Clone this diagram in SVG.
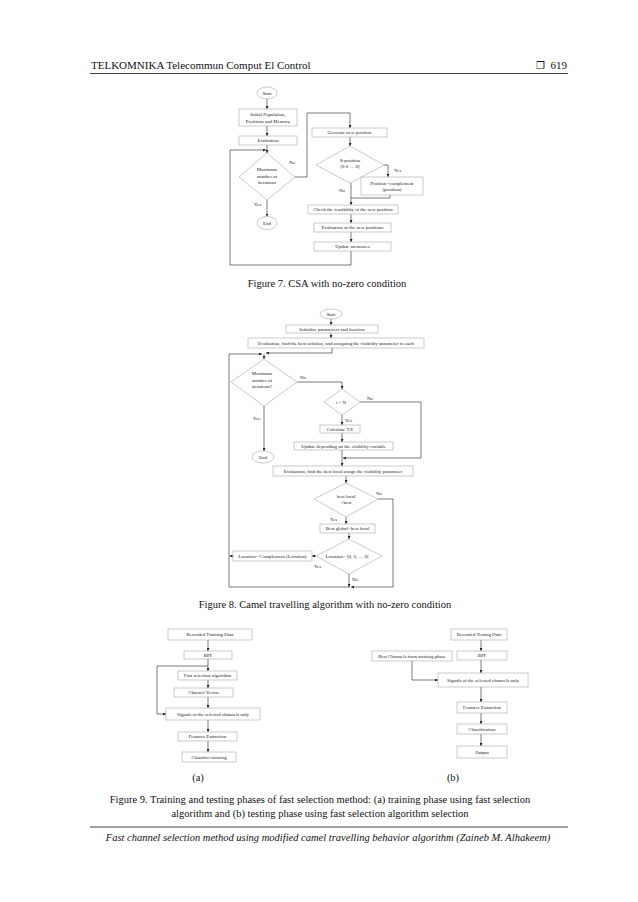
<svg xmlns="http://www.w3.org/2000/svg" width="638" height="902" viewBox="0 0 638 902">
<style>
.bx{fill:#fff;stroke:#a0a0a0;stroke-width:0.55}
.ln{fill:none;stroke:#222;stroke-width:0.6}
.ar{fill:none;stroke:#222;stroke-width:0.6;marker-end:url(#ah)}
.t{font-family:"Liberation Serif","Times New Roman",serif;font-size:4.9px;fill:#222;text-anchor:middle}
.l{font-family:"Liberation Serif","Times New Roman",serif;font-size:4.9px;fill:#222}
.cap{font-family:"Liberation Serif","Times New Roman",serif;font-size:10.5px;fill:#111;text-anchor:middle}
.hd{font-family:"Liberation Serif","Times New Roman",serif;font-size:11px;fill:#111}
</style>
<defs>
<marker id="ah" viewBox="0 0 6 6" refX="6" refY="3" markerWidth="3" markerHeight="3" orient="auto" markerUnits="userSpaceOnUse"><path d="M0,0 L6,3 L0,6 z" fill="#222"/></marker>
</defs>
<rect width="638" height="902" fill="#fff"/>

<g id="header">
<text class="hd" x="91" y="69">TELKOMNIKA Telecommun Comput El Control</text>
<text x="536" y="69" style="font-family:'DejaVu Sans',sans-serif;font-size:10px;fill:#111">❐</text>
<text class="hd" x="567" y="69" text-anchor="end">619</text>
<line x1="90" y1="73.5" x2="568" y2="73.5" stroke="#111" stroke-width="0.8"/>
</g>

<g id="connectors">
<path class="ar" d="M267,99 V109"/>
<path class="ar" d="M267,126 V136"/>
<path class="ar" d="M267,145 V153"/>
<path class="ar" d="M295,177 H307 V113 H350 V128"/>
<path class="ar" d="M350,137 V146"/>
<path class="ar" d="M384,165 H388 V177"/>
<path class="ln" d="M390,195 V198 H351"/>
<path class="ar" d="M351,183 V205"/>
<path class="ar" d="M351,214 V223"/>
<path class="ar" d="M351,232 V242"/>
<path class="ar" d="M351,251 V265 H230 V150 H266"/>
<path class="ar" d="M267,200 V216.5"/>

<path class="ar" d="M331,319 V325"/>
<path class="ar" d="M331,333 V338"/>
<path class="ar" d="M332,348 V353 H266"/>
<path class="ar" d="M350,587 H229 V354 H262"/>
<path class="ar" d="M264,354 V359"/>
<path class="ar" d="M297,382 H342 V389"/>
<path class="ar" d="M360,402 H421 V458 H343"/>
<path class="ar" d="M342,415 V425"/>
<path class="ar" d="M342,433 V442"/>
<path class="ar" d="M342,450 V466"/>
<path class="ar" d="M264,406 V451"/>
<path class="ar" d="M346,476 V483"/>
<path class="ar" d="M378,499 H393 V587 H351"/>
<path class="ar" d="M346,517 V524"/>
<path class="ar" d="M349,533 V539"/>
<path class="ar" d="M316,556 H312"/>
<path class="ar" d="M233,556 H229.5"/>
<path class="ar" d="M349,574 V587"/>

<path class="ar" d="M208,640 V651"/>
<path class="ar" d="M208,659 V671"/>
<path class="ar" d="M208,666 H157 V714 H166"/>
<path class="ar" d="M208,680 V688"/>
<path class="ar" d="M208,697 V708"/>
<path class="ar" d="M208,720 V732"/>
<path class="ar" d="M208,741 V752"/>
<path class="ar" d="M481,640 V651"/>
<path class="ar" d="M481,660 V673"/>
<path class="ar" d="M412,661 V680 H438"/>
<path class="ar" d="M481,687 V702"/>
<path class="ar" d="M481,713 V724"/>
<path class="ar" d="M481,734 V746"/>
</g>

<g id="f7-start"><ellipse class="bx" cx="267" cy="93" rx="10" ry="6"/><text class="t" x="267" y="94.7">Start</text></g>
<g id="f7-init"><rect class="bx" x="239" y="109" width="58" height="17"/><text class="t" x="268" y="116">Initial Population,</text><text class="t" x="268" y="122.5">Positions and Memory</text></g>
<g id="f7-eval"><rect class="bx" x="239" y="136" width="58" height="9"/><text class="t" x="268" y="142.2">Evaluation</text></g>
<g id="f7-max"><polygon class="bx" points="267,153 295,177 267,200 239,177"/><text class="t" x="267" y="171">Maximum</text><text class="t" x="267" y="177.5">number of</text><text class="t" x="267" y="184">iterations</text></g>
<g id="f7-gen"><rect class="bx" x="312" y="128" width="75" height="9"/><text class="t" x="349.5" y="134.2">Generate new position</text></g>
<g id="f7-if"><polygon class="bx" points="350,146 384,165 350,183 316,165"/><text class="t" x="350" y="162">If position</text><text class="t" x="350" y="168">[0 0 … 0]</text></g>
<g id="f7-comp"><rect class="bx" x="361" y="177" width="62" height="18"/><text class="t" x="392" y="184.5">Position=complement</text><text class="t" x="392" y="191">(position)</text></g>
<g id="f7-check"><rect class="bx" x="308" y="205" width="90" height="9"/><text class="t" x="353" y="211.2">Check the feasibility of the new position</text></g>
<g id="f7-evalnew"><rect class="bx" x="314" y="223" width="77" height="9"/><text class="t" x="352.5" y="229.2">Evaluation of the new positions</text></g>
<g id="f7-update"><rect class="bx" x="314" y="242" width="77" height="9"/><text class="t" x="352.5" y="248.2">Update memories</text></g>
<g id="f7-end"><ellipse class="bx" cx="267" cy="223" rx="10" ry="6.5"/><text class="t" x="267" y="224.7">End</text></g>
<g id="f7-labels"><text class="l" x="289" y="164">No</text><text class="l" x="394" y="172">Yes</text><text class="l" x="339" y="192">No</text><text class="l" x="254" y="206">Yes</text></g>
<text class="cap" x="327" y="286.5">Figure 7. CSA with no-zero condition</text>

<g id="f8-start"><ellipse class="bx" cx="331" cy="314" rx="11" ry="5"/><text class="t" x="331" y="315.7">Start</text></g>
<g id="f8-init"><rect class="bx" x="286" y="325" width="92" height="8"/><text class="t" x="332" y="330.7">Initialize parameters and location</text></g>
<g id="f8-eval"><rect class="bx" x="248" y="338" width="176" height="10"/><text class="t" x="336" y="344.7">Evaluation, find the best solution, and assigning the visibility parameter to each</text></g>
<g id="f8-max"><polygon class="bx" points="264,359 297,382 264,406 231,382"/><text class="t" x="262" y="375">Maximum</text><text class="t" x="262" y="381.5">number of</text><text class="t" x="262" y="388">iterations?</text></g>
<g id="f8-iN"><polygon class="bx" points="342,389 360,402 342,415 324,402"/><text class="t" x="341" y="403.7">i &lt; N</text></g>
<g id="f8-calc"><rect class="bx" x="320" y="425" width="40" height="8"/><text class="t" x="340" y="430.7">Calculate T.E</text></g>
<g id="f8-upd"><rect class="bx" x="294" y="442" width="99" height="8"/><text class="t" x="343.5" y="447.7">Update depending on the visibility variable</text></g>
<g id="f8-end"><ellipse class="bx" cx="263" cy="457" rx="11" ry="6"/><text class="t" x="263" y="458.7">End</text></g>
<g id="f8-evalloc"><rect class="bx" x="273" y="466" width="140" height="10"/><text class="t" x="343" y="472.7">Evaluation, find the best local assign the visibility parameter</text></g>
<g id="f8-best"><polygon class="bx" points="346,483 378,499 346,517 314,499"/><text class="t" x="346" y="497.5">best local</text><text class="t" x="346" y="504">&lt;best</text></g>
<g id="f8-global"><rect class="bx" x="320" y="524" width="55" height="9"/><text class="t" x="347.5" y="530.2">Best global=best local</text></g>
<g id="f8-loc"><polygon class="bx" points="349,539 382,556 349,574 316,556"/><text class="t" x="347" y="557.7">Location= [0, 0, … 0]</text></g>
<g id="f8-comp"><rect class="bx" x="233" y="551" width="79" height="10"/><text class="t" x="272.5" y="557.7">Location= Complement (Location)</text></g>
<g id="f8-labels"><text class="l" x="300" y="379">No</text><text class="l" x="367" y="400">No</text><text class="l" x="345" y="422">Yes</text><text class="l" x="253" y="420">Yes</text><text class="l" x="376" y="495">No</text><text class="l" x="330" y="521">Yes</text><text class="l" x="314" y="568">Yes</text><text class="l" x="352" y="581">No</text></g>
<text class="cap" x="325" y="608">Figure 8. Camel travelling algorithm with no-zero condition</text>

<g id="f9a-rec"><rect class="bx" x="168" y="629" width="84" height="11"/><text class="t" x="210" y="636.3">Recorded Training Data</text></g>
<g id="f9a-bpf"><rect class="bx" x="184" y="651" width="48" height="8"/><text class="t" x="208" y="656.7">BPF</text></g>
<g id="f9a-fast"><rect class="bx" x="178" y="671" width="59" height="9"/><text class="t" x="207.5" y="677.2">Fast selection algorithm</text></g>
<g id="f9a-vec"><rect class="bx" x="174" y="688" width="59" height="9"/><text class="t" x="203.5" y="694.2">Channel Vector</text></g>
<g id="f9a-sig"><rect class="bx" x="166" y="708" width="94" height="12"/><text class="t" x="213" y="715.7">Signals of the selected channels only</text></g>
<g id="f9a-feat"><rect class="bx" x="178" y="732" width="59" height="9"/><text class="t" x="207.5" y="738.2">Features Extraction</text></g>
<g id="f9a-cls"><rect class="bx" x="182" y="752" width="54" height="10"/><text class="t" x="209" y="758.7">Classifier training</text></g>

<g id="f9b-rec"><rect class="bx" x="451" y="629" width="56" height="11"/><text class="t" x="479" y="636.3">Recorded Testing Data</text></g>
<g id="f9b-bpf"><rect class="bx" x="457" y="651" width="50" height="9"/><text class="t" x="482" y="657.2">BPF</text></g>
<g id="f9b-best"><rect class="bx" x="372" y="651" width="80" height="10"/><text class="t" x="412" y="657.7">Best Channels from training phase</text></g>
<g id="f9b-sig"><rect class="bx" x="438" y="673" width="90" height="14"/><text class="t" x="483" y="681.7">Signals of the selected channels only</text></g>
<g id="f9b-feat"><rect class="bx" x="457" y="702" width="50" height="11"/><text class="t" x="482" y="709.2">Features Extraction</text></g>
<g id="f9b-cls"><rect class="bx" x="457" y="724" width="50" height="10"/><text class="t" x="482" y="730.7">Classification</text></g>
<g id="f9b-out"><rect class="bx" x="457" y="746" width="50" height="12"/><text class="t" x="482" y="753.7">Output</text></g>

<text class="cap" x="198" y="781">(a)</text>
<text class="cap" x="453" y="781">(b)</text>
<text class="cap" x="320" y="803">Figure 9. Training and testing phases of fast selection method: (a) training phase using fast selection</text>
<text class="cap" x="320" y="817">algorithm and (b) testing phase using fast selection algorithm selection</text>
<line x1="90" y1="827" x2="568" y2="827" stroke="#111" stroke-width="0.8"/>
<text class="cap" x="328" y="841" font-style="italic">Fast channel selection method using modified camel travelling behavior algorithm (Zaineb M. Alhakeem)</text>
</svg>
